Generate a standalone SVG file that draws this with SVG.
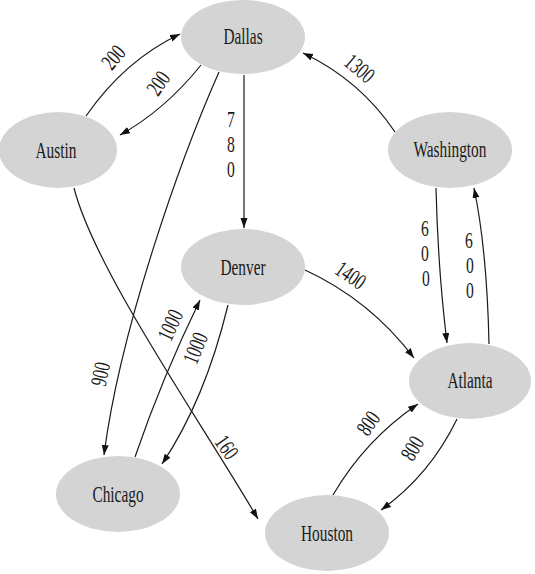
<svg xmlns="http://www.w3.org/2000/svg" width="535" height="574" viewBox="0 0 535 574">
<style>
.node ellipse{fill:#d4d4d4;stroke:none}
.node text{font-family:"Liberation Serif",serif;font-size:24px;fill:#1a1a1a;text-anchor:middle}
.edges path{fill:none;stroke:#1a1a1a;stroke-width:1.2}
.lbl{font-family:"Liberation Serif",serif;font-size:23px;fill:#1a1a1a;text-anchor:middle}
</style>
<defs>
<marker id="ah" markerUnits="userSpaceOnUse" markerWidth="11" markerHeight="8" refX="10" refY="3.5" orient="auto">
<path d="M0,0 L10,3.5 L0,7 z" fill="#111"/>
</marker>
</defs>
<rect width="535" height="574" fill="#fff"/>
<g id="node-dallas" class="node"><ellipse cx="243" cy="37" rx="62" ry="37"/><text transform="translate(243,44) scale(0.64,1)">Dallas</text></g>
<g id="node-austin" class="node"><ellipse cx="58" cy="150" rx="59" ry="38"/><text transform="translate(56,158) scale(0.64,1)">Austin</text></g>
<g id="node-washington" class="node"><ellipse cx="450" cy="150" rx="62" ry="38"/><text transform="translate(450,157) scale(0.64,1)">Washington</text></g>
<g id="node-denver" class="node"><ellipse cx="243" cy="267" rx="62" ry="38"/><text transform="translate(243,275) scale(0.64,1)">Denver</text></g>
<g id="node-atlanta" class="node"><ellipse cx="470" cy="381" rx="61" ry="38"/><text transform="translate(470,388) scale(0.64,1)">Atlanta</text></g>
<g id="node-chicago" class="node"><ellipse cx="118" cy="494" rx="62" ry="38"/><text transform="translate(118,502) scale(0.64,1)">Chicago</text></g>
<g id="node-houston" class="node"><ellipse cx="327" cy="533" rx="62" ry="38"/><text transform="translate(327,541) scale(0.64,1)">Houston</text></g>
<g id="connectors" class="edges">
<path d="M86,116 Q125,60 180,34" marker-end="url(#ah)"/>
<path d="M201,65 Q165,110 120,135" marker-end="url(#ah)"/>
<path d="M244,75 L244,228" marker-end="url(#ah)"/>
<path d="M219,72 C180,160 120,330 104,455" marker-end="url(#ah)"/>
<path d="M74,188 C95,270 200,420 258,519" marker-end="url(#ah)"/>
<path d="M135,457 Q162,378 200,300" marker-end="url(#ah)"/>
<path d="M228,305 Q205,400 162,464" marker-end="url(#ah)"/>
<path d="M395,132 Q360,80 303,53" marker-end="url(#ah)"/>
<path d="M436,188 Q438,270 447,343" marker-end="url(#ah)"/>
<path d="M489,344 Q487,250 474,188" marker-end="url(#ah)"/>
<path d="M305,270 Q370,300 414,358" marker-end="url(#ah)"/>
<path d="M333,495 Q365,440 418,404" marker-end="url(#ah)"/>
<path d="M457,419 Q430,475 381,510" marker-end="url(#ah)"/>
<text class="lbl" transform="translate(113,57) rotate(-50) scale(0.68,1)" dy="0.35em">200</text>
<text class="lbl" transform="translate(158,83) rotate(-55) scale(0.68,1)" dy="0.35em">200</text>
<text class="lbl" transform="translate(231,127) scale(0.68,1)">7</text>
<text class="lbl" transform="translate(231,152) scale(0.68,1)">8</text>
<text class="lbl" transform="translate(231,177) scale(0.68,1)">0</text>
<text class="lbl" transform="translate(360,68) rotate(40) scale(0.68,1)" dy="0.35em">1300</text>
<text class="lbl" transform="translate(351,275) rotate(35) scale(0.68,1)" dy="0.35em">1400</text>
<text class="lbl" transform="translate(170,325) rotate(-65) scale(0.68,1)" dy="0.35em">1000</text>
<text class="lbl" transform="translate(195,348) rotate(-68) scale(0.68,1)" dy="0.35em">1000</text>
<text class="lbl" transform="translate(100,374) rotate(-78) scale(0.68,1)" dy="0.35em">900</text>
<text class="lbl" transform="translate(227,447) rotate(55) scale(0.68,1)" dy="0.35em">160</text>
<text class="lbl" transform="translate(368,423) rotate(-55) scale(0.68,1)" dy="0.35em">800</text>
<text class="lbl" transform="translate(412,448) rotate(-60) scale(0.68,1)" dy="0.35em">800</text>
<text class="lbl" transform="translate(425,236) scale(0.68,1)">6</text>
<text class="lbl" transform="translate(425,261) scale(0.68,1)">0</text>
<text class="lbl" transform="translate(426,286) scale(0.68,1)">0</text>
<text class="lbl" transform="translate(469,248) scale(0.68,1)">6</text>
<text class="lbl" transform="translate(470,273) scale(0.68,1)">0</text>
<text class="lbl" transform="translate(470,298) scale(0.68,1)">0</text>
</g>
</svg>
